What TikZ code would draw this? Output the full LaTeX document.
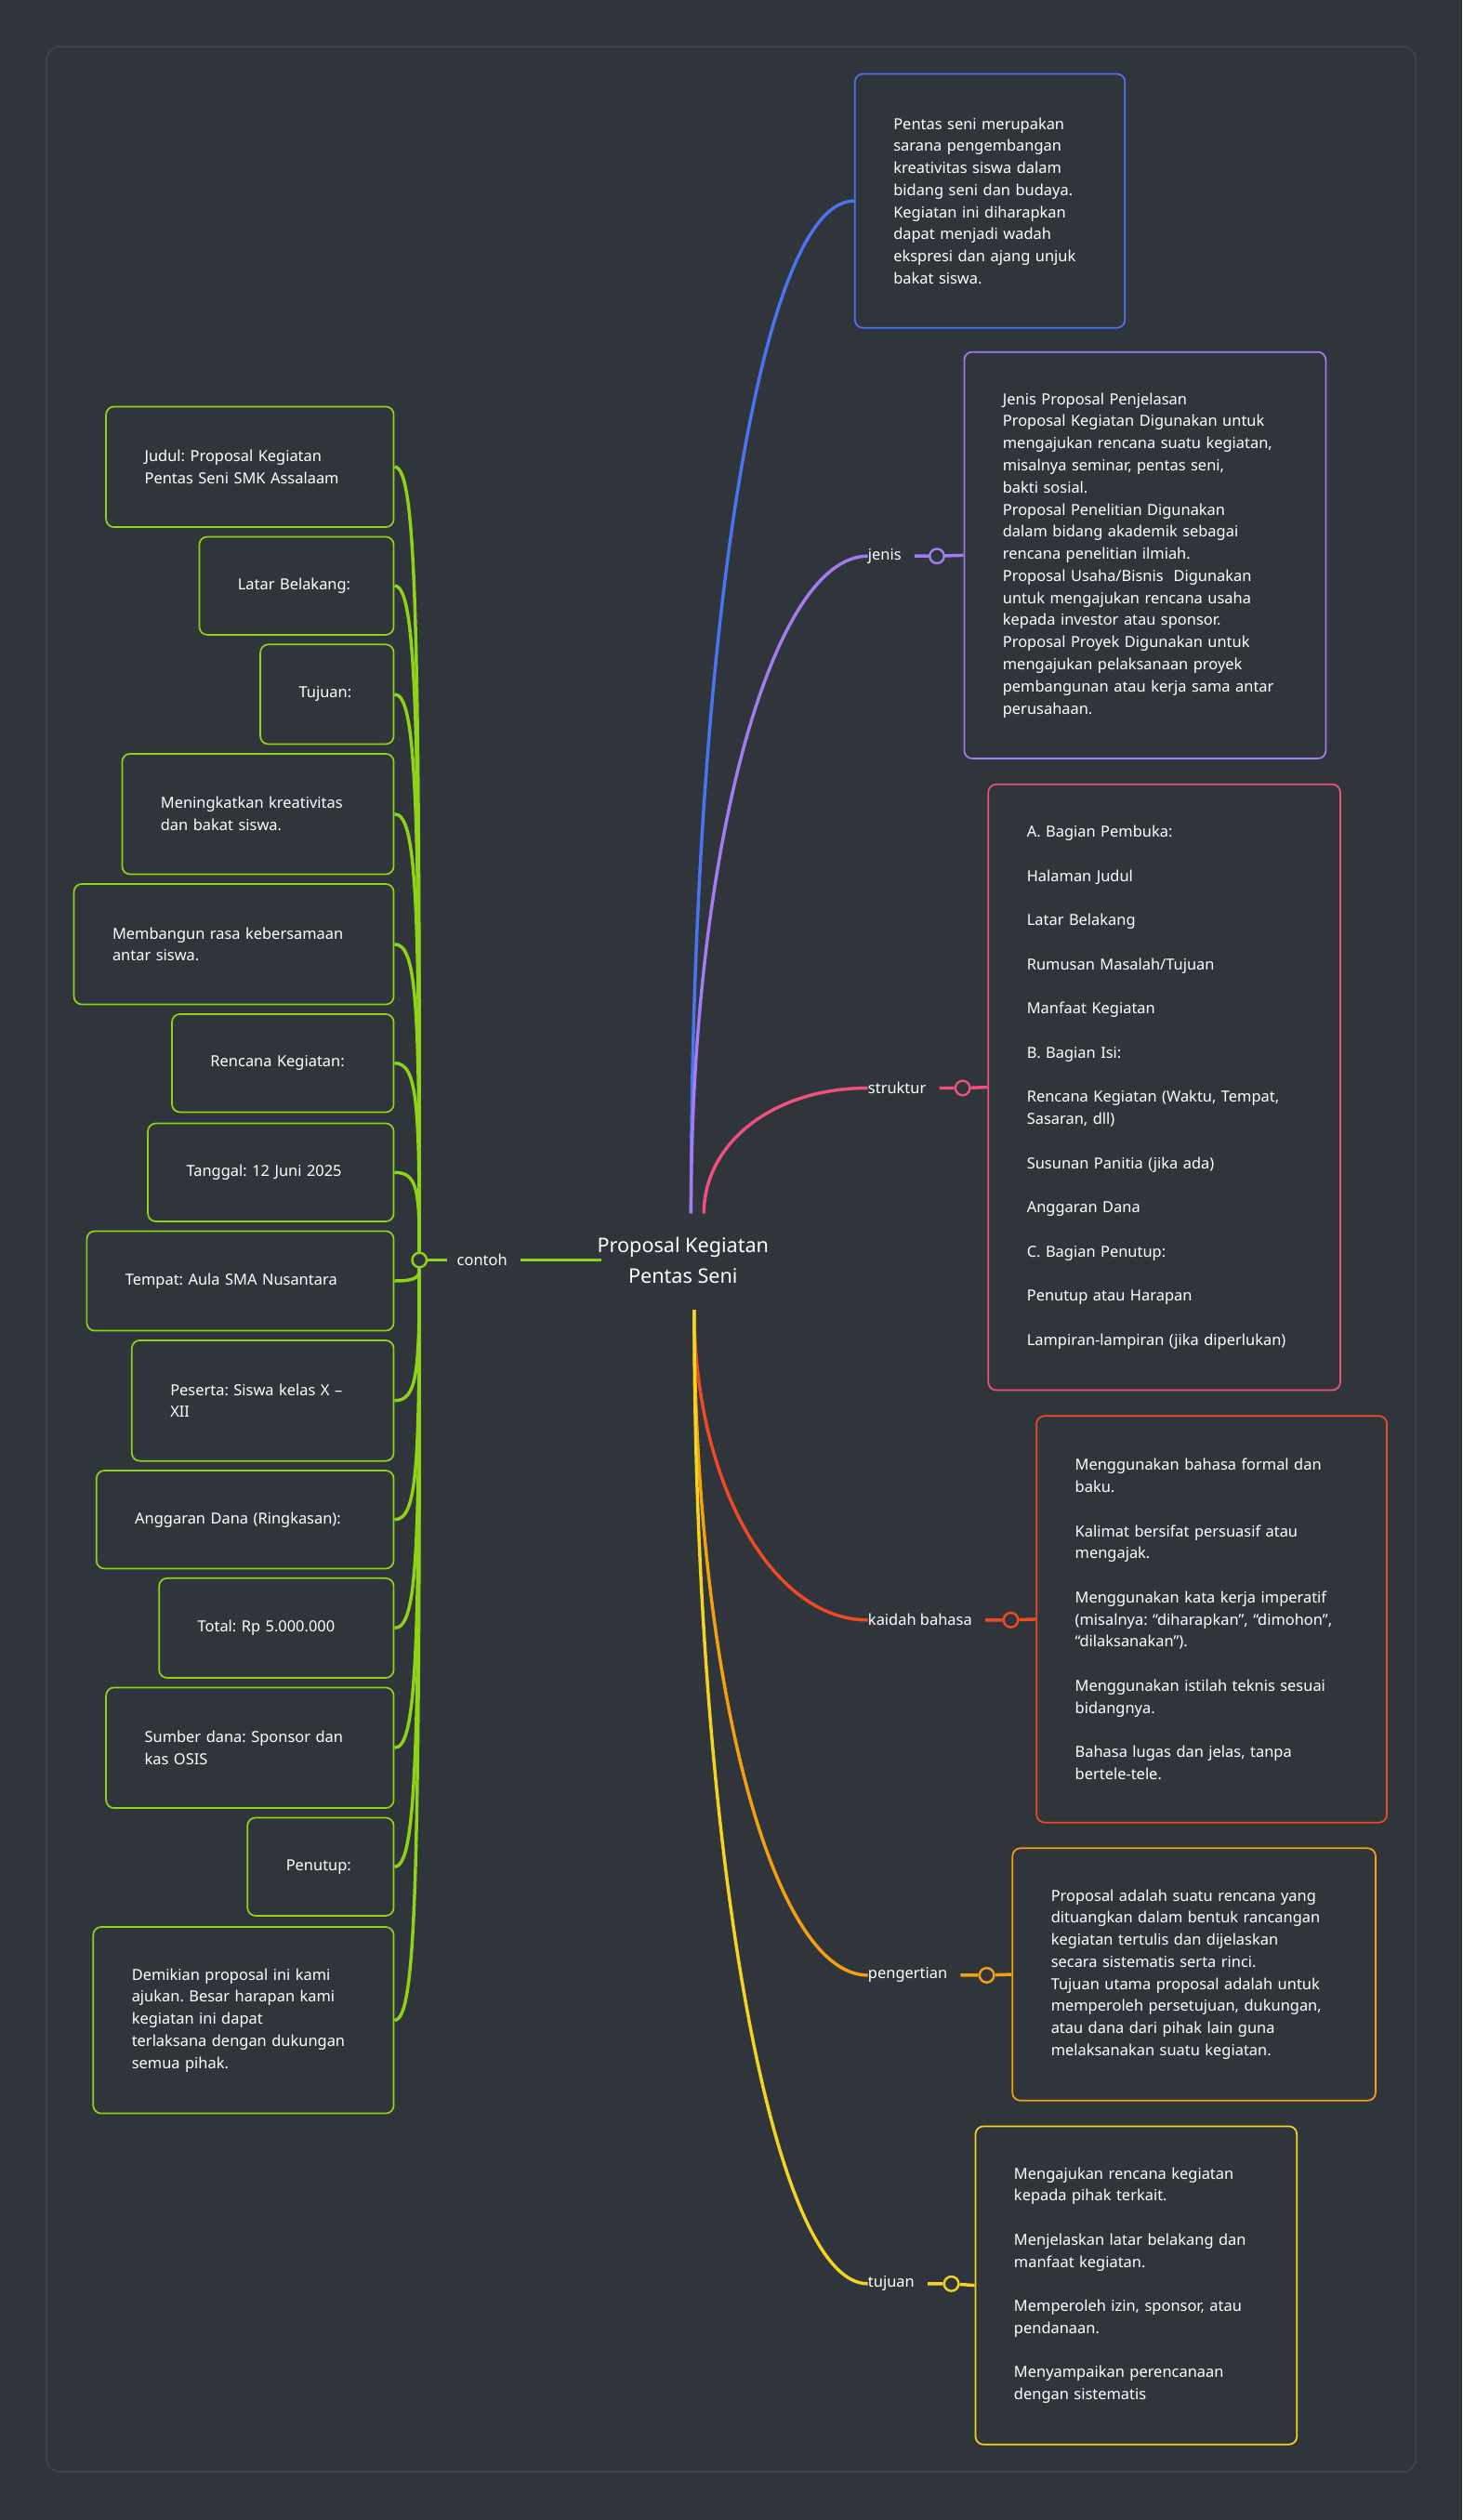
\documentclass[tikz,border=0pt]{standalone}
\usepackage{fontspec}
\setmainfont{Noto Sans}
\usetikzlibrary{calc}
\definecolor{bgcol}{HTML}{2F353B}
\definecolor{framecol}{HTML}{3E454C}
\definecolor{cblue}{HTML}{4A74F0}
\definecolor{cpurple}{HTML}{A47CF0}
\definecolor{cpink}{HTML}{F0507C}
\definecolor{cred}{HTML}{F04A25}
\definecolor{corange}{HTML}{F5A00F}
\definecolor{cyellow}{HTML}{F5D322}
\definecolor{cgreen}{HTML}{8ED318}
\frenchspacing
\tikzset{
  boxst/.style={rounded corners=5pt, line width=1pt, text=white, align=left,
    inner xsep=24pt, inner ysep=0pt, font=\fontsize{9.5}{13.75}\selectfont},
  lbl/.style={text=white, font=\fontsize{9.5}{12}\selectfont, anchor=west, inner sep=0pt},
  dot/.style={circle, draw=#1, fill=bgcol, line width=1.4pt, minimum size=9pt, inner sep=0pt},
  br/.style={draw=#1, line width=2pt}
}
\newcommand\bx[7]{%
  \pgfmathsetmacro\tw{#5-#3-48}
  \node[boxst, draw=#2, minimum width={(#5-#3)*1pt}, minimum height={(#6-#4)*1pt},
    text width=\tw pt] (#1) at ({(#3+#5)/2},{(#4+#6)/2}) {#7};}
% curved branch from a start point to a west anchor
\newcommand\rbranch[3]{%
  \draw[br=#1] (#2) .. controls ($(#2)!0.55!(#2|-#3)$) and ($(#3)+(-60,0)$) .. (#3);}
\newcommand\lbranch[2]{%
  \draw[br=#1] (dcontoh) .. controls ($(dcontoh)!0.8!(dcontoh|-#2)$) and ($(#2)+(14,0)$) .. (#2);}
\begin{document}
\begin{tikzpicture}[x=1pt,y=-1pt]
\fill[bgcol] (0,0) rectangle (910,1568);
\useasboundingbox (0,0) rectangle (910,1568);
\draw[framecol, rounded corners=8pt, line width=0.8pt] (29,29) rectangle (881,1538);

% root
\node[text=white, align=center, font=\fontsize{12.5}{19}\selectfont\bfseries] (root) at (425,784)
  {Proposal Kegiatan\\Pentas Seni};
\coordinate (rt) at (430,755);
\coordinate (rt2) at (438,755);
\coordinate (rb) at (432,815);

% right side
\bx{pentas}{cblue}{532}{46}{700}{204}{Pentas seni merupakan\\sarana pengembangan\\kreativitas siswa dalam\\bidang seni dan budaya.\\Kegiatan ini diharapkan\\dapat menjadi wadah\\ekspresi dan ajang unjuk\\bakat siswa.}
\rbranch{cblue}{rt}{pentas.west}

\bx{jenisbox}{cpurple}{600}{219}{825}{472}{Jenis Proposal Penjelasan\\Proposal Kegiatan Digunakan untuk\\mengajukan rencana suatu kegiatan,\\misalnya seminar, pentas seni,\\bakti sosial.\\Proposal Penelitian Digunakan\\dalam bidang akademik sebagai\\rencana penelitian ilmiah.\\Proposal Usaha/Bisnis\ \ Digunakan\\untuk mengajukan rencana usaha\\kepada investor atau sponsor.\\Proposal Proyek Digunakan untuk\\mengajukan pelaksanaan proyek\\pembangunan atau kerja sama antar\\perusahaan.}
\node[lbl] (jenis) at (540,346) {jenis};
\node[dot=cpurple] (djenis) at (583,346) {};
\rbranch{cpurple}{rt}{jenis.west}
\draw[br=cpurple] ($(jenis.east)+(8,0)$) -- (djenis) -- (jenisbox.west);

\bx{strukbox}{cpink}{615}{488}{834}{865}{A. Bagian Pembuka:\\[13.75pt]Halaman Judul\\[13.75pt]Latar Belakang\\[13.75pt]Rumusan Masalah/Tujuan\\[13.75pt]Manfaat Kegiatan\\[13.75pt]B. Bagian Isi:\\[13.75pt]Rencana Kegiatan (Waktu, Tempat,\\Sasaran, dll)\\[13.75pt]Susunan Panitia (jika ada)\\[13.75pt]Anggaran Dana\\[13.75pt]C. Bagian Penutup:\\[13.75pt]Penutup atau Harapan\\[13.75pt]Lampiran-lampiran (jika diperlukan)}
\node[lbl] (struktur) at (540,677) {struktur};
\node[dot=cpink] (dstruk) at (599,677) {};
\rbranch{cpink}{rt2}{struktur.west}
\draw[br=cpink] ($(struktur.east)+(8,0)$) -- (dstruk) -- (strukbox.west);

\bx{kaidahbox}{cred}{645}{881}{863}{1134}{Menggunakan bahasa formal dan\\baku.\\[13.75pt]Kalimat bersifat persuasif atau\\mengajak.\\[13.75pt]Menggunakan kata kerja imperatif\\(misalnya: “diharapkan”, “dimohon”,\\“dilaksanakan”).\\[13.75pt]Menggunakan istilah teknis sesuai\\bidangnya.\\[13.75pt]Bahasa lugas dan jelas, tanpa\\bertele-tele.}
\node[lbl] (kaidah) at (540,1008) {kaidah bahasa};
\node[dot=cred] (dkaidah) at (629,1008) {};
\rbranch{cred}{rb}{kaidah.west}
\draw[br=cred] ($(kaidah.east)+(8,0)$) -- (dkaidah) -- (kaidahbox.west);

\bx{pengbox}{corange}{630}{1150}{856}{1307}{Proposal adalah suatu rencana yang\\dituangkan dalam bentuk rancangan\\kegiatan tertulis dan dijelaskan\\secara sistematis serta rinci.\\Tujuan utama proposal adalah untuk\\memperoleh persetujuan, dukungan,\\atau dana dari pihak lain guna\\melaksanakan suatu kegiatan.}
\node[lbl] (pengertian) at (540,1229) {pengertian};
\node[dot=corange] (dpeng) at (614,1229) {};
\rbranch{corange}{rb}{pengertian.west}
\draw[br=corange] ($(pengertian.east)+(8,0)$) -- (dpeng) -- (pengbox.west);

\bx{tujuanbox}{cyellow}{607}{1323}{807}{1521}{Mengajukan rencana kegiatan\\kepada pihak terkait.\\[13.75pt]Menjelaskan latar belakang dan\\manfaat kegiatan.\\[13.75pt]Memperoleh izin, sponsor, atau\\pendanaan.\\[13.75pt]Menyampaikan perencanaan\\dengan sistematis}
\node[lbl] (tujuan) at (540,1421) {tujuan};
\node[dot=cyellow] (dtujuan) at (592,1421) {};
\rbranch{cyellow}{rb}{tujuan.west}
\draw[br=cyellow] ($(tujuan.east)+(8,0)$) -- (dtujuan) -- (tujuanbox.west);

% left side
\node[lbl, anchor=center] (contoh) at (300,784) {contoh};
\node[dot=cgreen] (dcontoh) at (261,784) {};
\draw[br=cgreen] ($(contoh.east)+(8,0)$) -- ($(root.west)+(6,0)$);
\draw[br=cgreen] ($(contoh.west)+(-6,0)$) -- (dcontoh);

\bx{l1}{cgreen}{66}{253}{245}{328}{Judul: Proposal Kegiatan\\Pentas Seni SMK Assalaam}
\bx{l2}{cgreen}{124}{334}{245}{395}{Latar Belakang:}
\bx{l3}{cgreen}{162}{401}{245}{463}{Tujuan:}
\bx{l4}{cgreen}{76}{469}{245}{544}{Meningkatkan kreativitas\\dan bakat siswa.}
\bx{l5}{cgreen}{46}{550}{245}{625}{Membangun rasa kebersamaan\\antar siswa.}
\bx{l6}{cgreen}{107}{631}{245}{692}{Rencana Kegiatan:}
\bx{l7}{cgreen}{92}{699}{245}{760}{Tanggal: 12 Juni 2025}
\bx{l8}{cgreen}{54}{766}{245}{828}{Tempat: Aula SMA Nusantara}
\bx{l9}{cgreen}{82}{834}{245}{909}{Peserta: Siswa kelas X –\\XII}
\bx{l10}{cgreen}{60}{915}{245}{976}{Anggaran Dana (Ringkasan):}
\bx{l11}{cgreen}{99}{982}{245}{1044}{Total: Rp 5.000.000}
\bx{l12}{cgreen}{66}{1050}{245}{1125}{Sumber dana: Sponsor dan\\kas OSIS}
\bx{l13}{cgreen}{154}{1131}{245}{1192}{Penutup:}
\bx{l14}{cgreen}{58}{1199}{245}{1315}{Demikian proposal ini kami\\ajukan. Besar harapan kami\\kegiatan ini dapat\\terlaksana dengan dukungan\\semua pihak.}
\foreach \b in {l1,l2,l3,l4,l5,l6,l7,l8,l9,l10,l11,l12,l13,l14}
  {\lbranch{cgreen}{\b.east}}
\end{tikzpicture}
\end{document}
